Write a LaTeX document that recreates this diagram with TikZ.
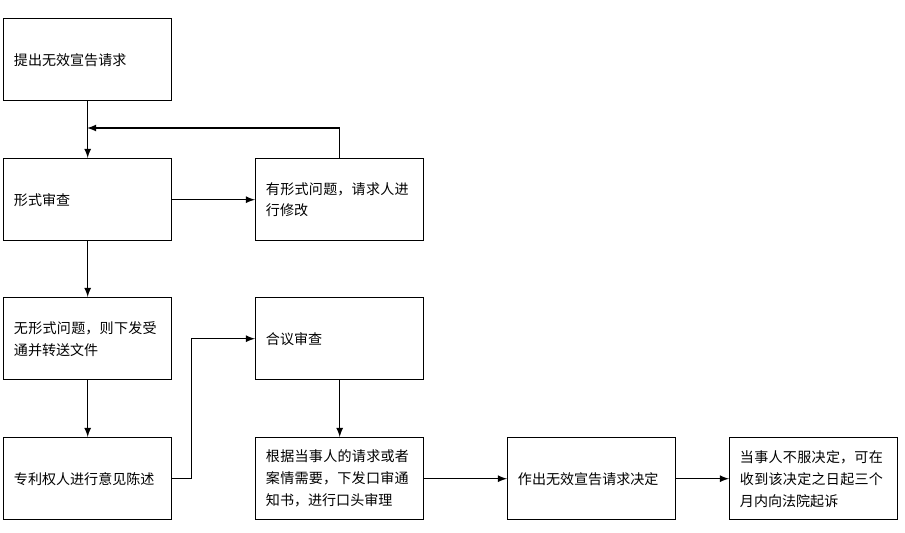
\documentclass[tikz,border=0pt]{standalone}
\usepackage{fontspec}
\setmainfont{Noto Sans CJK SC}
\XeTeXlinebreaklocale "zh"
\XeTeXlinebreakskip=0pt plus 1pt
\usetikzlibrary{calc}
\begin{document}
\begin{tikzpicture}[x=0.02cm,y=-0.02cm,
    box/.style={draw,thick,minimum width=3.36cm,minimum height=1.64cm,
      text width=2.95cm,align=left,font=\fontsize{8}{12.5}\selectfont,anchor=north west},
    arr/.style={thick,-latex}]
    \useasboundingbox (0,0) rectangle (905,532);

    \node[box] (req) at (3,18) {提出无效宣告请求};
    \node[box] (form) at (3,158) {形式审查};
    \node[box] (fix) at (255,158) {有形式问题，请求人进行修改};
    \node[box] (ok) at (3,297) {无形式问题，则下发受通并转送文件};
    \node[box] (panel) at (255,297) {合议审查};
    \node[box] (owner) at (3,437) {专利权人进行意见陈述};
    \node[box] (oral) at (255,437) {根据当事人的请求或者案情需要，下发口审通知书，进行口头审理};
    \node[box] (decide) at (507,437) {作出无效宣告请求决定};
    \node[box] (sue) at (729,437) {当事人不服决定，可在收到该决定之日起三个月内向法院起诉};

    \coordinate (back) at (87,128);
    \draw[arr] (req) -- (form);
    \draw[arr] (form) -- (fix);
    \draw[arr] (fix.north) |- (back);
    \draw[arr] (form) -- (ok);
    \draw[arr] (ok) -- (owner);
    \draw[arr] (owner.east) -- ++(19,0) |- (panel.west);
    \draw[arr] (panel) -- (oral);
    \draw[arr] (oral) -- (decide);
    \draw[arr] (decide) -- (sue);
\end{tikzpicture}
\end{document}
